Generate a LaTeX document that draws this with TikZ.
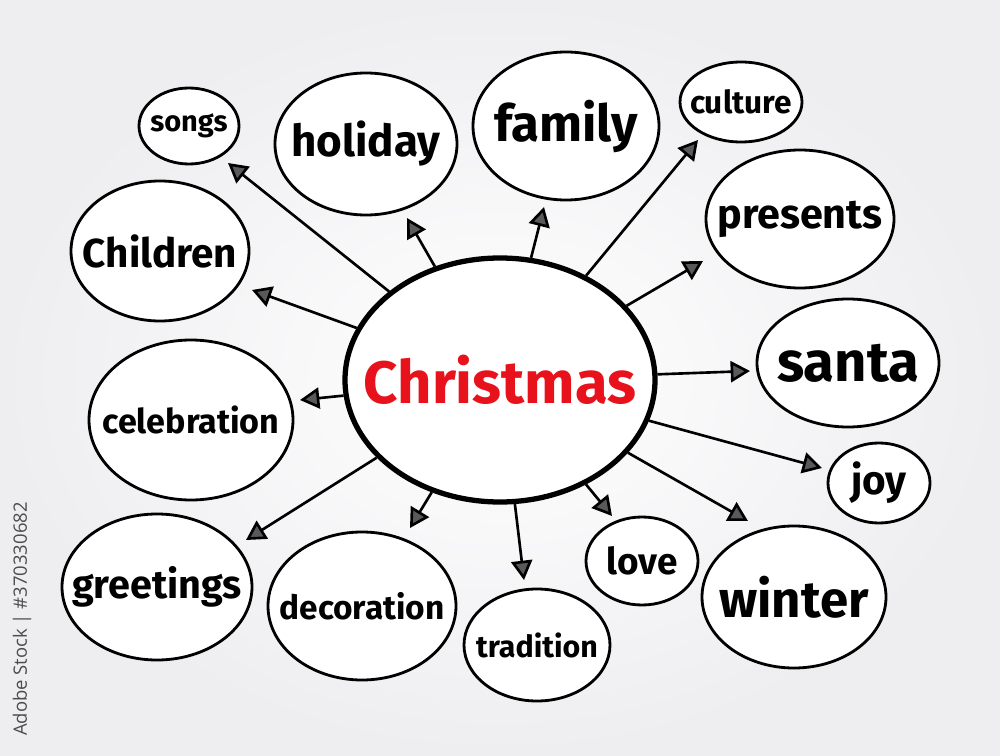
\documentclass[tikz,border=0pt]{standalone}
\usepackage{fontspec}
\setmainfont{Fira Sans}
\newfontfamily\wmfont{Open Sans}
\usetikzlibrary{arrows.meta}
\usetikzlibrary{shapes.geometric}

\definecolor{xred}{RGB}{232,18,28}
\definecolor{bgedge}{RGB}{238,238,241}
\newcommand{\fs}[1]{\fontsize{#1}{#1}\selectfont\bfseries}
\newcommand{\wrd}[1]{\makebox[0pt]{#1}}

\tikzset{
    bub/.style n args={2}{ellipse, draw, line width=1.6pt, fill=white,
        minimum width=#1*0.4mm, minimum height=#2*0.4mm, inner sep=0pt},
    arr/.style={line width=1.5pt, line join=round,
        -{Triangle[length=11pt, width=12pt, fill=black!65]}}
}

\begin{document}
\begin{tikzpicture}[x=0.2mm, y=-0.2mm]
    \useasboundingbox (0,0) rectangle (1000,756);
    \shade[inner color=white, outer color=bgedge] (0,0) rectangle (1000,756);
    \node[rotate=90, anchor=west, text=black!70, font=\wmfont\fontsize{10.5}{10.5}\selectfont] (wm) at (22,742) {Adobe Stock | \#370330682};

    % centre
    \node[ellipse, draw, line width=3pt, fill=white, minimum width=310*0.2mm,
        minimum height=244*0.2mm, inner sep=0pt, text=xred, font=\fs{34}] (xmas) at (500,380) {\wrd{Christmas}};

    % words round it
    \node[bub={50}{38}, font=\fs{16.5}] (songs) at (189,126) {\wrd{songs}};
    \node[bub={91}{71}, font=\fs{25}] (holiday) at (366,144) {\wrd{holiday}};
    \node[bub={93}{74}, font=\fs{29}] (family) at (566,126) {\wrd{family}};
    \node[bub={61}{40}, font=\fs{18}] (culture) at (741,102) {\wrd{culture}};
    \node[bub={89}{70}, font=\fs{23}] (children) at (160,251) {\wrd{Children}};
    \node[bub={94}{69}, font=\fs{23.5}] (presents) at (800,219) {\wrd{presents}};
    \node[bub={91}{64}, font=\fs{32}] (santa) at (848,363) {\wrd{santa}};
    \node[bub={102}{80}, font=\fs{19.4}] (celebration) at (191,420) {\wrd{celebration}};
    \node[bub={51}{40}, font=\fs{23}] (joy) at (879,483) {\wrd{joy}};
    \node[bub={95}{73}, font=\fs{22.5}] (greetings) at (157,587) {\wrd{greetings}};
    \node[bub={94}{74}, font=\fs{19}] (decoration) at (362,606) {\wrd{decoration}};
    \node[bub={73}{56}, font=\fs{17.3}] (tradition) at (537,645) {\wrd{tradition}};
    \node[bub={56}{44}, font=\fs{21}] (love) at (642,561) {\wrd{love}};
    \node[bub={92}{71}, font=\fs{29}] (winter) at (794,597) {\wrd{winter}};

    % arrow tips
    \coordinate (tsongs) at (228,163);
    \coordinate (tholiday) at (407,218);
    \coordinate (tfamily) at (544,207);
    \coordinate (tculture) at (698,140);
    \coordinate (tpresents) at (703,261);
    \coordinate (tsanta) at (750,371);
    \coordinate (tjoy) at (822,468);
    \coordinate (twinter) at (748,521);
    \coordinate (tlove) at (612,516);
    \coordinate (ttradition) at (524,580);
    \coordinate (tdecoration) at (410,528);
    \coordinate (tgreetings) at (246,540);
    \coordinate (tcelebration) at (300,400);
    \coordinate (tchildren) at (252,290);

    \foreach \t in {songs,holiday,family,culture,presents,santa,joy,winter,
        love,tradition,decoration,greetings,celebration,children}
        \draw[arr] (xmas) -- (t\t);
\end{tikzpicture}
\end{document}
